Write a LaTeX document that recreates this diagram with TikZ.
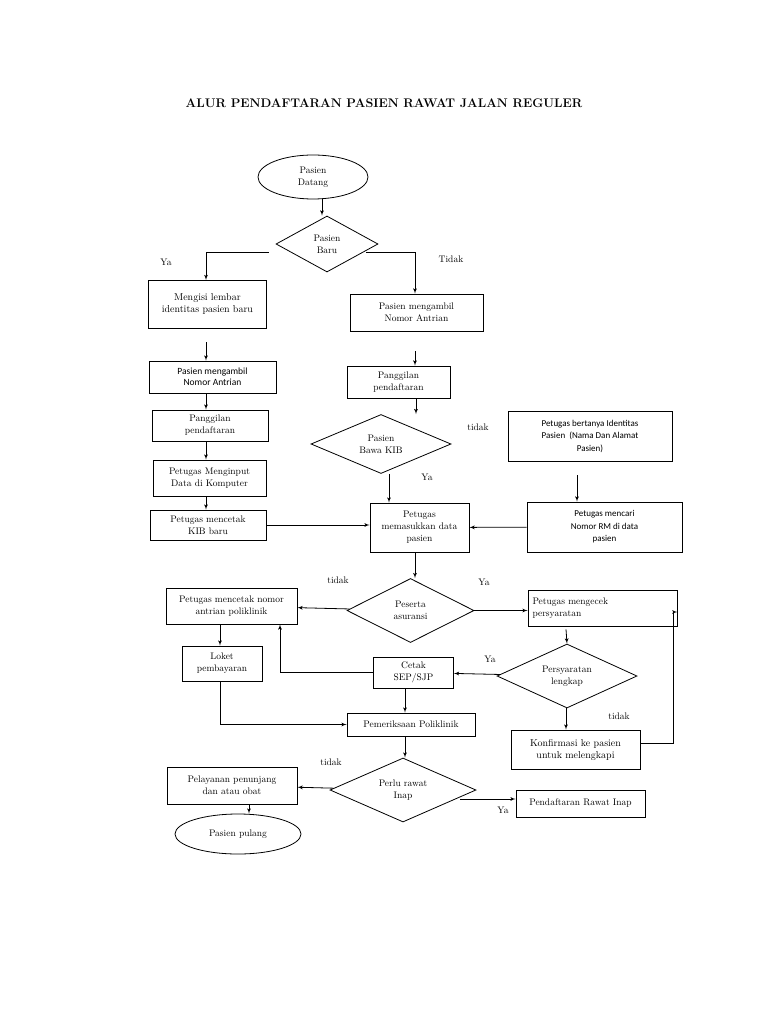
\documentclass[tikz,border=0pt]{standalone}
\usepackage{fontspec}
\newfontfamily\calibri{Carlito}
\usepackage{tikz}
\usetikzlibrary{shapes.geometric}
\usetikzlibrary{arrows}
\usetikzlibrary{calc}
\tikzstyle{line} = [draw, -latex']
\tikzstyle{box} = [draw, align=center, inner sep=1pt, font=\fontsize{9.5}{12}\selectfont]
\tikzstyle{dec} = [draw, diamond, aspect=2, inner sep=0pt, align=center, font=\fontsize{9.5}{12}\selectfont]
\tikzstyle{term} = [draw, ellipse, align=center, inner sep=0pt, font=\fontsize{9.5}{12}\selectfont]
\tikzstyle{lbl} = [font=\fontsize{9.5}{11}\selectfont]

\begin{document}
\begin{tikzpicture}[x=1pt,y=-1pt,line width=0.8pt]
\useasboundingbox (0,0) rectangle (768,1024);
\node[font=\bfseries\fontsize{12.5}{14}\selectfont] (title) at (384,103) {ALUR PENDAFTARAN PASIEN RAWAT JALAN REGULER};

\node[term, minimum width=110, minimum height=44] (datang) at (313,177) {Pasien\\Datang};
\node[dec, minimum width=102, minimum height=56] (baru) at (327,244) {Pasien\\Baru};
\node[box, minimum width=118, minimum height=48, text width=112, anchor=north west, align=center] (mengisi) at (148,280) {\fontsize{10}{12}\selectfont Mengisi lembar\\identitas pasien baru\\[8pt]};
\node[box, minimum width=133, minimum height=37] (ambilR) at (416.5,312.5) {Pasien mengambil\\Nomor Antrian};
\node[box, minimum width=127, minimum height=32, font=\calibri\fontsize{9.5}{11}\selectfont] (ambilL) at (212.5,377) {Pasien mengambil\\Nomor Antrian};
\node[box, minimum width=116, minimum height=31] (panggilL) at (210,425.5) {Panggilan\\pendaftaran};
\node[box, minimum width=113, minimum height=36] (input) at (209.5,478) {Petugas Menginput\\Data di Komputer};
\node[box, minimum width=116, minimum height=30] (kibbaru) at (208,525) {Petugas mencetak\\KIB baru};
\node[box, minimum width=103, minimum height=32] (panggilR) at (398.5,382) {Panggilan\\pendaftaran};
\node[dec, minimum width=140, minimum height=59] (kib) at (381,444) {Pasien\\Bawa KIB};
\node[box, minimum width=164, minimum height=50, font=\calibri\fontsize{9}{12.5}\selectfont] (tanya) at (590,436) {Petugas bertanya Identitas\\Pasien~ (Nama Dan Alamat\\Pasien)};
\node[box, minimum width=155, minimum height=50, font=\calibri\fontsize{9}{12.5}\selectfont] (cari) at (604.5,527) {Petugas mencari\\Nomor RM di data\\pasien};
\node[box, minimum width=99, minimum height=49] (masuk) at (419.5,527.5) {Petugas\\memasukkan data\\pasien};
\node[dec, minimum width=127, minimum height=64] (peserta) at (410.5,610.5) {Peserta\\asuransi};
\node[box, minimum width=131, minimum height=36] (nomor) at (231.5,606) {Petugas mencetak nomor\\antrian poliklinik};
\node[box, minimum width=149, minimum height=36, text width=140, align=left] (cek) at (602.5,608) {Petugas mengecek\\persyaratan};
\node[box, minimum width=80, minimum height=35] (loket) at (222,663.5) {Loket\\pembayaran};
\node[box, minimum width=80, minimum height=31] (cetak) at (413.5,672.5) {Cetak\\SEP/SJP};
\node[dec, minimum width=140, minimum height=64] (lengkap) at (567,676) {Persyaratan\\lengkap};
\node[box, minimum width=128, minimum height=23] (periksa) at (411,724.5) {Pemeriksaan Poliklinik};
\node[box, minimum width=129, minimum height=39, font=\fontsize{10}{12}\selectfont] (konfirm) at (575.5,749.5) {Konfirmasi ke pasien\\untuk melengkapi};
\node[dec, minimum width=146, minimum height=64] (rawat) at (403,790) {Perlu rawat\\Inap};
\node[box, minimum width=130, minimum height=37] (penunjang) at (232,785.5) {Pelayanan penunjang\\dan atau obat};
\node[box, minimum width=129, minimum height=27] (inap) at (580.5,803.5) {Pendaftaran Rawat Inap};
\node[term, minimum width=126, minimum height=40] (pulang) at (238,834) {Pasien pulang};

% labels
\node[lbl] (ya1) at (166,262) {Ya};
\node[lbl] (tidak1) at (451,259) {Tidak};
\node[lbl] (tidak2) at (478,427) {tidak};
\node[lbl] (ya2) at (427,477) {Ya};
\node[lbl] (tidak3) at (338,580) {tidak};
\node[lbl] (ya3) at (484,582) {Ya};
\node[lbl] (ya4) at (490,659) {Ya};
\node[lbl] (tidak4) at (619,716) {tidak};
\node[lbl] (tidak5) at (331,762) {tidak};
\node[lbl] (ya5) at (503,810) {Ya};

% connectors
\path[line] (datang.south -| 322,0) -- (baru.north -| 322,0);
\path[line] ($(baru.west)+(-7,8)$) -| (mengisi.north -| 206,0);
\path[line] ($(baru.east)+(-12,8)$) -| (ambilR.north -| 415,0);
\path[line] (206,342) -- (ambilL.north -| 206,0);
\path[line] (ambilL.south -| 206,0) -- (panggilL.north -| 206,0);
\path[line] (panggilL.south -| 206,0) -- (input.north -| 206,0);
\path[line] (input.south -| 206,0) -- (kibbaru.north -| 206,0);
\path[line] (415,351) -- (panggilR.north -| 415,0);
\path[line] (panggilR.south -| 416,0) -- (kib.north -| 416,0);
\path[line] (kib.south -| 389,0) -- (masuk.north -| 389,0);
\path[line] (tanya.south -| 577,0) ++(0,14) -- (cari.north -| 577,0);
\path[line] (cari) -- (masuk);
\path[line] (kibbaru) -- (masuk.west |- kibbaru);
\path[line] (masuk.south -| 415,0) -- (peserta.north -| 415,0);
\path[line] (peserta) -- (nomor);
\path[line] (peserta) -- (cek.west |- peserta);
\path[line] (nomor.south -| 220,0) -- (loket.north -| 220,0);
\path[line] (cetak.west) -| (nomor.south -| 280,0);
\path[line] (cek.south -| 566,0) ++(0,3) -- (lengkap.north);
\path[line] (lengkap) -- (cetak);
\path[line] (lengkap.south -| 566,0) -- (konfirm.north -| 566,0);
\path[line] (konfirm.east |- 0,743) -| (673,612) -- (cek.east |- 0,612);
\path[line] (cetak.south -| 405,0) -- (periksa.north -| 405,0);
\path[line] (loket.south -| 220,0) |- (periksa.west);
\path[line] (periksa.south -| 405,0) -- (rawat.north -| 405,0);
\path[line] (rawat) -- (penunjang);
\path[line] (rawat.east |- 0,799) ++(-16,0) -- (inap.west |- 0,799);
\path[line] (penunjang.south -| 249,0) -- (pulang.north -| 249,0);
\end{tikzpicture}
\end{document}
